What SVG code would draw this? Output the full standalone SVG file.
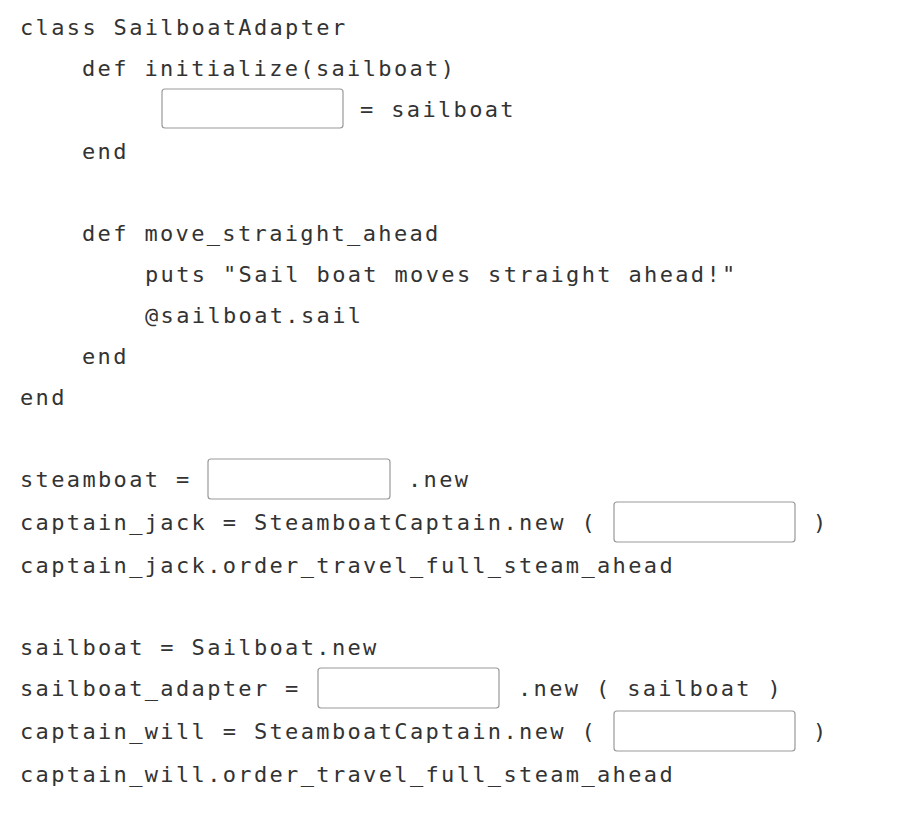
<svg xmlns="http://www.w3.org/2000/svg" width="920" height="828" viewBox="0 0 920 828">
<style>
text{font-family:"DejaVu Sans Mono","Liberation Mono",monospace;font-size:22px;letter-spacing:2.35px;fill:#333}
.box{fill:#fff;stroke:#999;stroke-width:1.2}
</style>
<rect width="920" height="828" fill="#fff"/>
<g id="code">
<text x="20" y="35">class SailboatAdapter</text>
<text x="82" y="76">def initialize(sailboat)</text>
<text x="360" y="117">= sailboat</text>
<text x="82" y="159">end</text>
<text x="82" y="241">def move_straight_ahead</text>
<text x="145" y="282">puts "Sail boat moves straight ahead!"</text>
<text x="145" y="323">@sailboat.sail</text>
<text x="82" y="364">end</text>
<text x="20" y="405">end</text>
<text x="20" y="487">steamboat =</text>
<text x="408" y="487">.new</text>
<text x="20" y="530">captain_jack = SteamboatCaptain.new (</text>
<text x="813" y="530">)</text>
<text x="20" y="573">captain_jack.order_travel_full_steam_ahead</text>
<text x="20" y="655">sailboat = Sailboat.new</text>
<text x="20" y="696">sailboat_adapter =</text>
<text x="518" y="696">.new ( sailboat )</text>
<text x="20" y="739">captain_will = SteamboatCaptain.new (</text>
<text x="813" y="739">)</text>
<text x="20" y="782">captain_will.order_travel_full_steam_ahead</text>
</g>
<g id="blanks">
<rect class="box" x="162" y="89" width="181" height="39" rx="3"/>
<rect class="box" x="208" y="459" width="182" height="40" rx="3"/>
<rect class="box" x="614" y="502" width="181" height="40" rx="3"/>
<rect class="box" x="318" y="668" width="181" height="40" rx="3"/>
<rect class="box" x="614" y="711" width="181" height="40" rx="3"/>
</g>
</svg>
